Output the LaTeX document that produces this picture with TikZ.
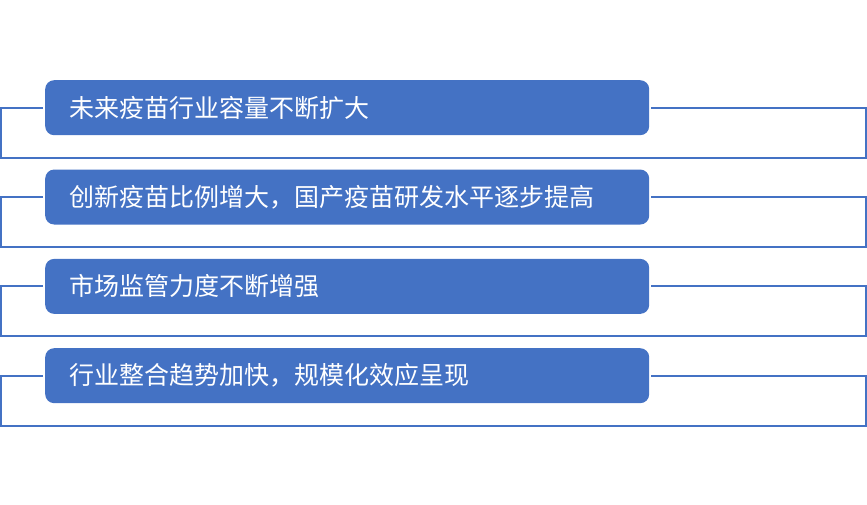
\documentclass[tikz,border=0pt]{standalone}
\usepackage{fontspec}
\newfontfamily\cjk{Noto Sans CJK SC}
\definecolor{boxblue}{HTML}{4472C4}
\tikzset{
  itembox/.style={draw=none, fill=boxblue, rounded corners=9pt, anchor=north west,
    minimum height=55pt, text width=556pt, inner xsep=24pt, inner ysep=0pt, align=left,
    text=white, font=\cjk\fontsize{25}{30}\selectfont},
  frame/.style={draw=boxblue, line width=1.9pt}
}
\begin{document}
\begin{tikzpicture}[x=1pt,y=-1pt]
\useasboundingbox (0,0) rectangle (867,505);
\foreach \i/\t in {0/未来疫苗行业容量不断扩大,
                   1/{创新疫苗比例增大，国产疫苗研发水平逐步提高},
                   2/市场监管力度不断增强,
                   3/{行业整合趋势加快，规模化效应呈现}} {
  \pgfmathsetmacro{\top}{80+89.33*\i}
  \pgfmathsetmacro{\bot}{157.7+89.33*\i}
  \node[itembox] (b\i) at (45,\top) {\t};
  \coordinate (bl\i) at (1,\bot);
  \coordinate (br\i) at (866,\bot);
  \draw[frame] ([xshift=-2pt]b\i.west) -| (bl\i) -- (br\i) |- ([xshift=2pt]b\i.east);
}
\end{tikzpicture}
\end{document}
